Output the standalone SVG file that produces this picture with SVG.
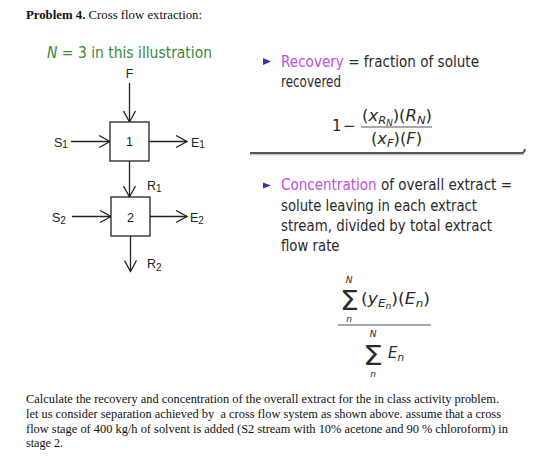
<svg xmlns="http://www.w3.org/2000/svg" width="538" height="475" viewBox="0 0 538 475">
<defs>
<style>
.ser{font-family:"Liberation Serif","Times New Roman",serif;font-size:13.3px;fill:#111}
.bm{font-family:"DejaVu Sans","Liberation Sans",sans-serif;font-size:15px;fill:#2a2a2a}
.it{font-style:italic}
.sm{font-size:9px}
.sig{font-size:27px}
.lab{font-family:"Liberation Sans",Arial,sans-serif;font-size:12.5px;fill:#222}
.sub{font-size:10px}
.box{fill:#fff;stroke:#222;stroke-width:1.3}
.con{fill:none;stroke:#222;stroke-width:1.3}
.frac{stroke:#555;stroke-width:1}
.mag{fill:#c04ee2}
</style>
<marker id="ah" viewBox="0 0 14 14" markerWidth="14" markerHeight="14" refX="12.5" refY="7" orient="auto" markerUnits="userSpaceOnUse">
<path d="M1.5,1 L12.5,7 L1.5,13" fill="none" stroke="#222" stroke-width="1.3"/>
</marker>
<linearGradient id="sh" x1="0" y1="0" x2="0" y2="1">
<stop offset="0" stop-color="#777"/>
<stop offset="1" stop-color="#fff" stop-opacity="0"/>
</linearGradient>
</defs>
<rect width="538" height="475" fill="#fff"/>

<text class="ser" x="26" y="19" textLength="176" lengthAdjust="spacingAndGlyphs"><tspan font-weight="bold">Problem 4.</tspan> Cross flow extraction:</text>

<text class="bm" x="47" y="58" style="fill:#3a8a3a" textLength="165" lengthAdjust="spacingAndGlyphs"><tspan class="it">N</tspan> = 3 in this illustration</text>

<g id="connectors">
<path class="con" d="M129.5,83 V122" marker-end="url(#ah)"/>
<path class="con" d="M71,141.5 H110" marker-end="url(#ah)"/>
<path class="con" d="M149,141.5 H187" marker-end="url(#ah)"/>
<path class="con" d="M129.5,161 V197" marker-end="url(#ah)"/>
<path class="con" d="M72,216.5 H111" marker-end="url(#ah)"/>
<path class="con" d="M150,216.5 H187" marker-end="url(#ah)"/>
<path class="con" d="M130.5,236 V271.5" marker-end="url(#ah)"/>
</g>

<g id="stage1">
<rect class="box" x="110" y="122" width="39" height="39"/>
<text class="lab" x="129.5" y="146" text-anchor="middle">1</text>
</g>
<g id="stage2">
<rect class="box" x="111" y="197" width="39" height="39"/>
<text class="lab" x="130.5" y="222" text-anchor="middle">2</text>
</g>
<g id="F"><text class="lab" x="129.5" y="77.5" text-anchor="middle">F</text></g>
<g id="S1"><text class="lab" x="54" y="146.5">S<tspan class="sub" dy="1">1</tspan></text></g>
<g id="E1"><text class="lab" x="191" y="146.5">E<tspan class="sub" dy="1">1</tspan></text></g>
<g id="R1"><text class="lab" x="147" y="190">R<tspan class="sub" dy="2">1</tspan></text></g>
<g id="S2"><text class="lab" x="52" y="222">S<tspan class="sub" dy="2">2</tspan></text></g>
<g id="E2"><text class="lab" x="190" y="222">E<tspan class="sub" dy="2">2</tspan></text></g>
<g id="R2"><text class="lab" x="147" y="268">R<tspan class="sub" dy="3">2</tspan></text></g>

<!-- Recovery block -->
<polygon points="263,58 271,61.5 263,65" fill="#3333b3"/>
<text class="bm" x="281" y="67" textLength="198" lengthAdjust="spacingAndGlyphs"><tspan class="mag">Recovery</tspan> = fraction of solute</text>
<text class="bm" x="281" y="87" textLength="60" lengthAdjust="spacingAndGlyphs">recovered</text>

<text class="bm" x="332" y="131">1</text>
<text class="bm" x="343" y="131">−</text>
<text class="bm" x="362" y="121" textLength="70" lengthAdjust="spacingAndGlyphs">(<tspan class="it">x</tspan><tspan class="it" font-size="10.5" dy="3">R</tspan><tspan class="it" font-size="8" dy="2">N</tspan><tspan dy="-5">)(</tspan><tspan class="it">R</tspan><tspan class="it" font-size="10.5" dy="3">N</tspan><tspan dy="-3">)</tspan></text>
<line class="frac" x1="361" y1="127" x2="432" y2="127"/>
<text class="bm" x="371" y="144" textLength="51" lengthAdjust="spacingAndGlyphs">(<tspan class="it">x</tspan><tspan class="it" font-size="10.5" dy="3">F</tspan><tspan dy="-3">)(</tspan><tspan class="it">F</tspan>)</text>

<rect x="250" y="153" width="274" height="4" fill="url(#sh)"/>
<path d="M250,153 H521 Q524.5,153 525,149" fill="none" stroke="#555" stroke-width="2"/>

<!-- Concentration block -->
<polygon points="263,182.5 271,185.5 263,188.5" fill="#3333b3"/>
<text class="bm" x="281" y="190" textLength="231" lengthAdjust="spacingAndGlyphs"><tspan class="mag">Concentration</tspan> of overall extract =</text>
<text class="bm" x="281" y="211" textLength="196" lengthAdjust="spacingAndGlyphs">solute leaving in each extract</text>
<text class="bm" x="281" y="231" textLength="211" lengthAdjust="spacingAndGlyphs">stream, divided by total extract</text>
<text class="bm" x="281" y="251" textLength="58.5" lengthAdjust="spacingAndGlyphs">flow rate</text>

<text class="bm it sm" x="349" y="283" text-anchor="middle">N</text>
<text class="bm sig" x="340" y="310" textLength="19" lengthAdjust="spacingAndGlyphs">Σ</text>
<text class="bm it sm" x="349" y="322" text-anchor="middle">n</text>
<text class="bm" x="361" y="304" textLength="69" lengthAdjust="spacingAndGlyphs">(<tspan class="it">y</tspan><tspan class="it" font-size="10.5" dy="3">E</tspan><tspan class="it" font-size="8" dy="1.5">n</tspan><tspan dy="-4.5">)(</tspan><tspan class="it">E</tspan><tspan class="it" font-size="10.5" dy="3">n</tspan><tspan dy="-3">)</tspan></text>
<line class="frac" x1="338" y1="325" x2="431" y2="325"/>
<text class="bm it sm" x="373" y="337" text-anchor="middle">N</text>
<text class="bm sig" x="363" y="365" textLength="20" lengthAdjust="spacingAndGlyphs">Σ</text>
<text class="bm it sm" x="373" y="377" text-anchor="middle">n</text>
<text class="bm" x="388" y="358"><tspan class="it">E</tspan><tspan class="it" font-size="10.5" dy="3">n</tspan></text>

<!-- paragraph -->
<text class="ser" x="26" y="403" textLength="473" lengthAdjust="spacingAndGlyphs">Calculate the recovery and concentration of the overall extract for the in class activity problem.</text>
<text class="ser" x="26" y="418" textLength="475" lengthAdjust="spacingAndGlyphs" xml:space="preserve">let us consider separation achieved by  a cross flow system as shown above. assume that a cross</text>
<text class="ser" x="26" y="432.5" textLength="482" lengthAdjust="spacingAndGlyphs">flow stage of 400 kg/h of solvent is added (S2 stream with 10% acetone and 90 % chloroform) in</text>
<text class="ser" x="26" y="447" textLength="37" lengthAdjust="spacingAndGlyphs">stage 2.</text>
</svg>
